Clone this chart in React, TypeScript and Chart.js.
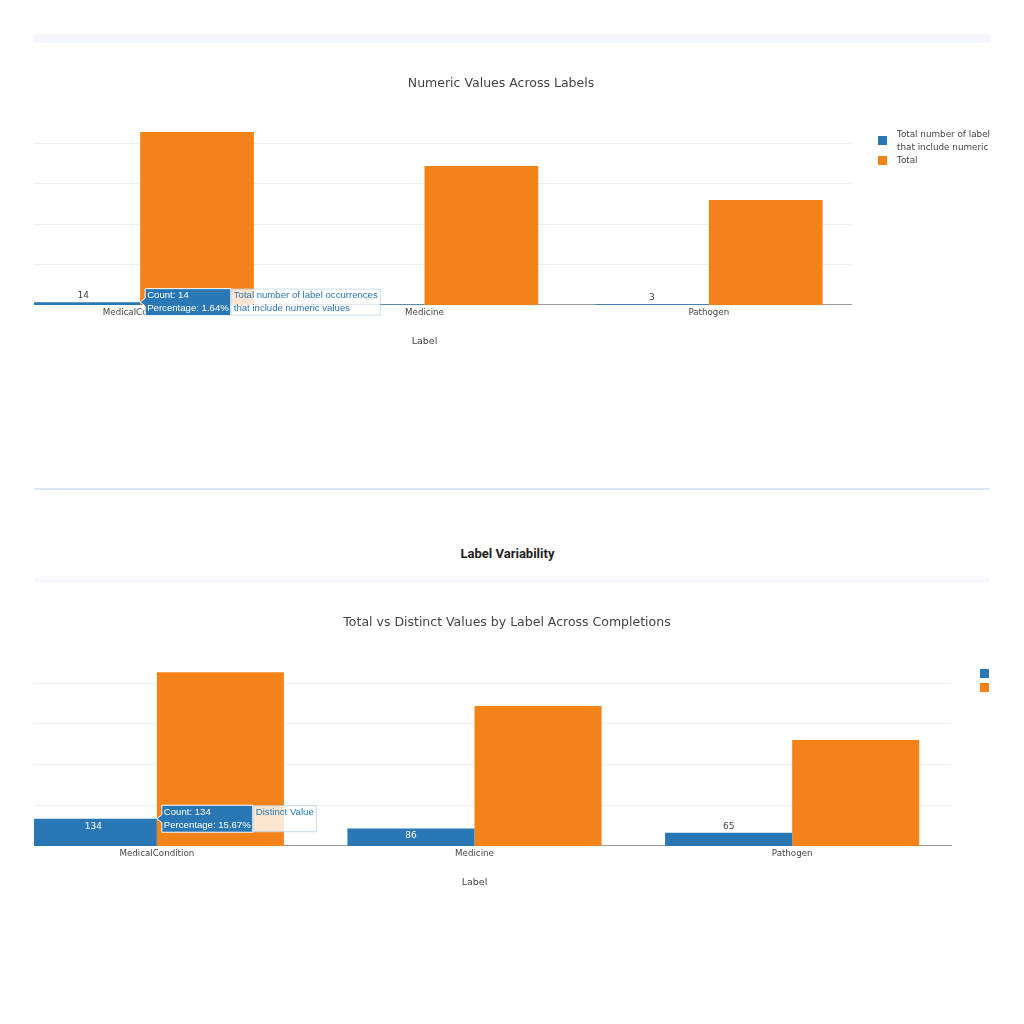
import { useEffect, useRef } from "react";
import { Chart, registerables } from "chart.js";

Chart.register(...registerables);

// categories on the x axis
const labels = ["MedicalCondition", "Medicine", "Pathogen"];

// chart 1: numeric values across labels
const numericCounts = [14, 2, 3];
const numericTotals = [855, 687, 519];
const numericName = ["Total number of label occurrences", "that include numeric values"];

// chart 2: total vs distinct values
const distinctCounts = [134, 86, 65];
const distinctTotals = [855, 688, 521];
const distinctName = ["Distinct Value"];

const gridValues = [200, 400, 600, 800];
const yMax = 900;

const BLUE = "#2977b5";
const ORANGE = "#f38219";
const TEXT = "#444";
const FONT = "'DejaVu Sans', Verdana, sans-serif";
const HOVER_FONT = "'Liberation Sans', Arial, sans-serif";

// value text on the first trace: inside the bar when it fits, above otherwise
const valueLabels = {
  id: "valueLabels",
  afterDatasetsDraw(chart: any) {
    const { ctx } = chart;
    const meta = chart.getDatasetMeta(0);
    const values = chart.data.datasets[0].data;
    ctx.save();
    ctx.font = `9px ${FONT}`;
    ctx.textAlign = "center";
    meta.data.forEach((bar: any, i: number) => {
      const h = bar.base - bar.y;
      if (h >= 16) {
        ctx.fillStyle = "#fff";
        ctx.textBaseline = "top";
        ctx.fillText(String(values[i]), bar.x, bar.y + 3);
      } else {
        ctx.fillStyle = TEXT;
        ctx.textBaseline = "bottom";
        ctx.fillText(String(values[i]), bar.x, bar.y - 2);
      }
    });
    ctx.restore();
  },
};

// the hover label that is open in the screenshot
const makeHoverBox = (index: number, totals: number[], name: string[]) => ({
  id: "hoverBox",
  afterDraw(chart: any) {
    const bar = chart.getDatasetMeta(0).data[index];
    const value = chart.data.datasets[0].data[index];
    const lines = [`Count: ${value}`, `Percentage: ${((value / totals[index]) * 100).toFixed(2)}%`];
    const ctx = chart.ctx;
    const tipX = bar.x + bar.width / 2;
    const tipY = bar.y;
    const lh = 13;
    const pad = 2;
    ctx.save();
    ctx.font = `9.6px ${HOVER_FONT}`;
    const boxW = Math.max(...lines.map((l) => ctx.measureText(l).width)) + pad * 2;
    const nameW = Math.max(...name.map((l) => ctx.measureText(l).width)) + pad * 2 + 2;
    const boxH = lines.length * lh + 1;
    const x0 = tipX + 5;
    const y0 = tipY - boxH / 2;

    ctx.fillStyle = "rgba(255,255,255,0.8)";
    ctx.fillRect(x0 + boxW, y0, nameW, boxH);
    ctx.strokeStyle = "rgba(41,119,181,0.25)";
    ctx.lineWidth = 1;
    ctx.strokeRect(x0 + boxW + 0.5, y0 + 0.5, nameW - 1, boxH - 1);

    ctx.beginPath();
    ctx.moveTo(tipX, tipY);
    ctx.lineTo(x0, tipY - 4);
    ctx.lineTo(x0, y0);
    ctx.lineTo(x0 + boxW, y0);
    ctx.lineTo(x0 + boxW, y0 + boxH);
    ctx.lineTo(x0, y0 + boxH);
    ctx.lineTo(x0, tipY + 4);
    ctx.closePath();
    ctx.fillStyle = BLUE;
    ctx.fill();
    ctx.strokeStyle = "#fff";
    ctx.stroke();

    ctx.textBaseline = "middle";
    ctx.textAlign = "left";
    ctx.fillStyle = "#fff";
    lines.forEach((l, i) => ctx.fillText(l, x0 + pad, y0 + 7 + i * lh));
    ctx.fillStyle = BLUE;
    name.forEach((l, i) => ctx.fillText(l, x0 + boxW + pad + 1, y0 + 7 + i * lh));
    ctx.restore();
  },
});

type PanelProps = {
  title: string;
  counts: number[];
  totals: number[];
  name: string[];
  width: number;
  height: number;
  padRight: number;
  titleTop: number;
  titleBottom: number;
  bottomPad: number;
};

function BarPanel(p: PanelProps) {
  const chartRef = useRef<HTMLCanvasElement | null>(null);
  const chartInstance = useRef<Chart | null>(null);

  useEffect(() => {
    if (!chartRef.current) return;
    const ctx = chartRef.current.getContext("2d");
    if (!ctx) return;
    if (chartInstance.current) chartInstance.current.destroy();

    chartInstance.current = new Chart(ctx, {
      type: "bar",
      data: {
        labels,
        datasets: [
          {
            label: p.name.join(" "),
            data: p.counts,
            backgroundColor: BLUE,
            categoryPercentage: 0.8,
            barPercentage: 1,
          },
          {
            label: "Total",
            data: p.totals,
            backgroundColor: ORANGE,
            categoryPercentage: 0.8,
            barPercentage: 1,
          },
        ],
      },
      options: {
        animation: false,
        responsive: true,
        maintainAspectRatio: false,
        layout: { padding: { left: 0, right: 0, top: 0, bottom: p.bottomPad } },
        plugins: {
          legend: { display: false },
          tooltip: { enabled: false },
          title: {
            display: true,
            text: p.title,
            color: TEXT,
            font: { family: FONT, size: 12.5, weight: "normal" },
            padding: { top: p.titleTop, bottom: p.titleBottom },
          },
        },
        scales: {
          x: {
            grid: { display: false, drawTicks: false },
            border: { display: true, color: "#9a9a9a", width: 1 },
            ticks: { color: TEXT, font: { family: FONT, size: 8.7 }, padding: 3 },
            title: {
              display: true,
              text: "Label",
              color: TEXT,
              font: { family: FONT, size: 9.5 },
              padding: { top: 14.5, bottom: 0 },
            },
          },
          y: {
            position: "right",
            min: 0,
            max: yMax,
            afterBuildTicks: (axis: any) => {
              axis.ticks = gridValues.map((v) => ({ value: v }));
            },
            // the right-hand space where the legend sits
            afterFit: (axis: any) => {
              axis.width = p.padRight;
            },
            grid: { color: "#eeeeee", drawTicks: false },
            border: { display: false },
            ticks: { display: false },
          },
        },
      },
      plugins: [valueLabels, makeHoverBox(0, p.totals, p.name)],
    });

    return () => {
      if (chartInstance.current) {
        chartInstance.current.destroy();
        chartInstance.current = null;
      }
    };
  }, []);

  return (
    <div style={{ position: "absolute", left: -36, top: 0, width: p.width, height: p.height }}>
      <canvas ref={chartRef} />
    </div>
  );
}

function Legend({ items, left, top, rowH }: { items: { color: string; lines: string[] }[]; left: number; top: number; rowH: number }) {
  return (
    <div style={{ position: "absolute", left, top, font: `8.8px ${FONT}`, color: TEXT, whiteSpace: "nowrap" }}>
      {items.map((it, i) => (
        <div key={i} style={{ display: "flex", alignItems: "center", lineHeight: `${rowH}px` }}>
          <span style={{ width: 9, height: 9, background: it.color, marginRight: 10, flex: "none" }} />
          <span>
            {it.lines.map((l, j) => (
              <div key={j}>{l}</div>
            ))}
          </span>
        </div>
      ))}
    </div>
  );
}

export default function App() {
  return (
    <div style={{ position: "absolute", left: 0, top: 0, width: 1024, height: 1024, background: "#fff", overflow: "hidden" }}>
      <div style={{ position: "absolute", left: 34, top: 34, width: 956, height: 9, background: "#f4f6fd" }} />

      <div style={{ position: "absolute", left: 34, top: 43, width: 956, height: 330, overflow: "hidden" }}>
        <BarPanel
          title="Numeric Values Across Labels"
          counts={numericCounts}
          totals={numericTotals}
          name={numericName}
          width={1006}
          height={330}
          padRight={153}
          titleTop={33.5}
          titleBottom={31.5}
          bottomPad={25.7}
        />
        <Legend
          left={844}
          top={84.5}
          rowH={13}
          items={[
            { color: BLUE, lines: numericName },
            { color: ORANGE, lines: ["Total"] },
          ]}
        />
      </div>

      <div style={{ position: "absolute", left: 34, top: 488, width: 956, height: 2, background: "#dfe5f8" }} />
      <div
        style={{
          position: "absolute",
          left: 34,
          top: 545,
          width: 947,
          textAlign: "center",
          font: "bold 13px Roboto, sans-serif",
          color: "#222",
          lineHeight: "18px",
        }}
      >
        Label Variability
      </div>
      <div style={{ position: "absolute", left: 34, top: 576, width: 956, height: 6, background: "linear-gradient(#fdfdff, #f3f5fd)" }} />

      <div style={{ position: "absolute", left: 34, top: 583, width: 956, height: 330, overflow: "hidden" }}>
        <BarPanel
          title="Total vs Distinct Values by Label Across Completions"
          counts={distinctCounts}
          totals={distinctTotals}
          name={distinctName}
          width={1018}
          height={330}
          padRight={65}
          titleTop={32.5}
          titleBottom={32.5}
          bottomPad={24.7}
        />
        <Legend
          left={946}
          top={83}
          rowH={14.5}
          items={[
            { color: BLUE, lines: distinctName },
            { color: ORANGE, lines: ["Total"] },
          ]}
        />
      </div>
    </div>
  );
}
